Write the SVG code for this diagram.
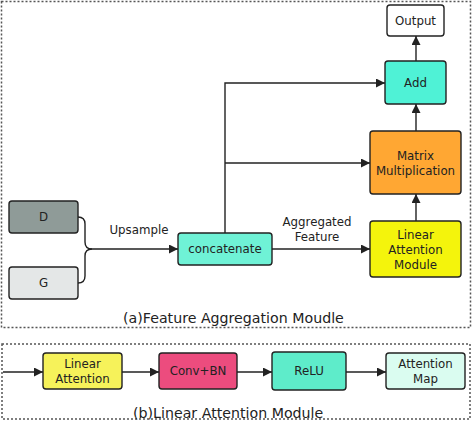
<svg xmlns="http://www.w3.org/2000/svg" width="474" height="422" viewBox="0 0 474 422">
<style>
.frame{fill:none;stroke:#555;stroke-width:1.5;stroke-dasharray:2 2}
.n{stroke:#222;stroke-width:1.4}
.t{font-family:"DejaVu Sans",sans-serif;font-size:11.8px;fill:#222;text-anchor:middle}
.lbl{font-family:"DejaVu Sans",sans-serif;font-size:11.8px;fill:#222;text-anchor:middle}
.cap{font-family:"DejaVu Sans",sans-serif;font-size:14.2px;fill:#222}
.c{fill:none;stroke:#222;stroke-width:1.4}
</style>
<defs>
<marker id="ah" viewBox="0 0 10 10" refX="10" refY="5" markerWidth="9" markerHeight="9" markerUnits="userSpaceOnUse" orient="auto">
<path d="M0,0 L10,5 L0,10 z" fill="#222"/>
</marker>
</defs>
<rect class="frame" x="1.5" y="1.5" width="469" height="326"/>
<rect class="frame" x="2" y="344" width="468" height="75"/>
<g id="connectors">
<path class="c" d="M78,217 Q85,217 85,224 L85,242 Q85,249 92,249 L178,249" marker-end="url(#ah)"/>
<path class="c" d="M78,283 Q85,283 85,276 L85,256 Q85,249 92,249"/>
<path class="c" d="M272,249 L370,249" marker-end="url(#ah)"/>
<path class="c" d="M225,233 L225,83 L385,83" marker-end="url(#ah)"/>
<path class="c" d="M225,163 L370,163" marker-end="url(#ah)"/>
<path class="c" d="M416,221 L416,194" marker-end="url(#ah)"/>
<path class="c" d="M416,131 L416,104" marker-end="url(#ah)"/>
<path class="c" d="M416,61 L416,36" marker-end="url(#ah)"/>
<path class="c" d="M3,372 L43,372" marker-end="url(#ah)"/>
<path class="c" d="M122,372 L159,372" marker-end="url(#ah)"/>
<path class="c" d="M237,372 L272,372" marker-end="url(#ah)"/>
<path class="c" d="M346,372 L386,372" marker-end="url(#ah)"/>
<text class="lbl" x="139" y="234">Upsample</text>
<text class="lbl" x="317" y="226">Aggregated</text>
<text class="lbl" x="317" y="241">Feature</text>
</g>
<g id="D"><rect class="n" x="9" y="201" width="69" height="32" rx="3" fill="#8f9b98"/><text class="t" x="43.5" y="221">D</text></g>
<g id="G"><rect class="n" x="9" y="267" width="69" height="32" rx="3" fill="#e4e7e7"/><text class="t" x="43.5" y="287">G</text></g>
<g id="concatenate"><rect class="n" x="178" y="233" width="94" height="32" rx="3" fill="#6ff2d6"/><text class="t" x="225" y="253">concatenate</text></g>
<g id="lam"><rect class="n" x="370" y="221" width="91" height="56" rx="3" fill="#f4f40c"/><text class="t" x="415.5" y="239">Linear</text><text class="t" x="415.5" y="254">Attention</text><text class="t" x="415.5" y="269">Module</text></g>
<g id="matrix"><rect class="n" x="370" y="131" width="91" height="63" rx="3" fill="#ffa733"/><text class="t" x="415.5" y="160">Matrix</text><text class="t" x="415.5" y="175">Multiplication</text></g>
<g id="add"><rect class="n" x="385" y="61" width="61" height="43" rx="3" fill="#4ff2d6"/><text class="t" x="415.5" y="87">Add</text></g>
<g id="output"><rect class="n" x="387" y="5" width="57" height="31" rx="3" fill="#fff"/><text class="t" x="415.5" y="25">Output</text></g>
<g id="la"><rect class="n" x="43" y="353" width="79" height="36" rx="3" fill="#f6f25a"/><text class="t" x="82.5" y="368">Linear</text><text class="t" x="82.5" y="383">Attention</text></g>
<g id="convbn"><rect class="n" x="159" y="353" width="78" height="36" rx="3" fill="#ec4c7e"/><text class="t" x="198" y="375">Conv+BN</text></g>
<g id="relu"><rect class="n" x="272" y="352" width="74" height="38" rx="3" fill="#5eecca"/><text class="t" x="309" y="375">ReLU</text></g>
<g id="amap"><rect class="n" x="386" y="353" width="79" height="36" rx="3" fill="#dafcf0"/><text class="t" x="425.5" y="368">Attention</text><text class="t" x="425.5" y="383">Map</text></g>
<text class="cap" x="123" y="323">(a)Feature Aggregation Moudle</text>
<text class="cap" x="133" y="418">(b)Linear Attention Module</text>
</svg>
